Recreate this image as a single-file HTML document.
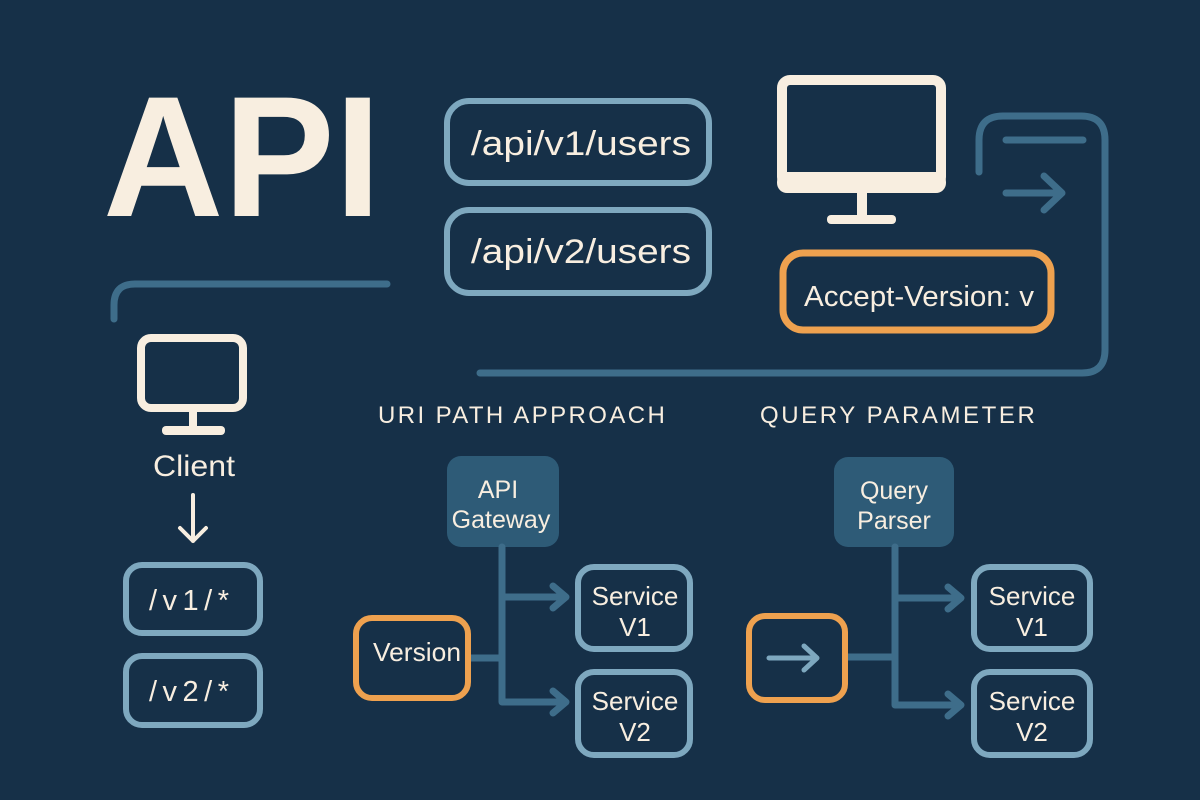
<!DOCTYPE html>
<html><head><meta charset="utf-8"><style>
html,body{margin:0;padding:0;background:#163048;}
svg{display:block}
text{font-family:"Liberation Sans","DejaVu Sans",sans-serif;}
</style></head><body>
<svg width="1200" height="800" viewBox="0 0 1200 800" xmlns="http://www.w3.org/2000/svg">
<rect width="1200" height="800" fill="#163048"/>
<text x="103" y="216" font-size="172" font-weight="bold" fill="#f8eee0" textLength="278" lengthAdjust="spacingAndGlyphs">API</text>
<g fill="none" stroke="#7ea8bf" stroke-width="6">
<rect x="447" y="101" width="262" height="82" rx="22"/>
<rect x="447" y="210" width="262" height="83" rx="22"/>
<rect x="126" y="565" width="134" height="68" rx="16"/>
<rect x="126" y="656" width="134" height="69" rx="16"/>
<rect x="578" y="567" width="112" height="82" rx="16"/>
<rect x="578" y="672" width="112" height="83" rx="16"/>
<rect x="974" y="567" width="116" height="82" rx="16"/>
<rect x="974" y="672" width="116" height="83" rx="16"/>
</g>
<g fill="#f8eee0" font-size="34" text-anchor="middle">
<text x="581" y="155" textLength="220" lengthAdjust="spacingAndGlyphs">/api/v1/users</text>
<text x="581" y="263" textLength="220" lengthAdjust="spacingAndGlyphs">/api/v2/users</text>
</g>
<g fill="none" stroke="#3e6d8a" stroke-width="7" stroke-linecap="round" stroke-linejoin="round">
<path d="M114 319 V305 Q114 284 135 284 H387"/>
<path d="M979 172 V140 Q979 116 1003 116 H1081 Q1105 116 1105 140 V350 Q1105 373 1082 373 H480"/>
<path d="M1006 140 H1083"/>
<path d="M1006 193 H1061 M1044 176 L1062 193 L1044 210"/>
</g>
<rect x="782" y="80" width="159" height="105" rx="8" fill="none" stroke="#f8eee0" stroke-width="10"/>
<rect x="777" y="172" width="169" height="21" rx="10" fill="#f8eee0"/>
<rect x="857" y="190" width="10" height="28" fill="#f8eee0"/>
<rect x="827" y="215" width="69" height="9" rx="4" fill="#f8eee0"/>
<rect x="783" y="253" width="268" height="77" rx="20" fill="none" stroke="#eea14f" stroke-width="7"/>
<text x="919" y="306" font-size="29" fill="#f8eee0" text-anchor="middle" textLength="230" lengthAdjust="spacingAndGlyphs">Accept-Version: v</text>
<rect x="141" y="338" width="102" height="70" rx="10" fill="none" stroke="#f8eee0" stroke-width="8"/>
<rect x="189" y="408" width="8" height="22" fill="#f8eee0"/>
<rect x="162" y="426" width="63" height="9" rx="4" fill="#f8eee0"/>
<text x="194" y="476" font-size="30" fill="#f8eee0" text-anchor="middle" textLength="82" lengthAdjust="spacingAndGlyphs">Client</text>
<path d="M193 495 V541 M180 528 L193 541 L206 528" fill="none" stroke="#f8eee0" stroke-width="4" stroke-linecap="round" stroke-linejoin="round"/>
<g fill="#f8eee0" font-size="29" text-anchor="middle">
<text x="189" y="610" textLength="80" lengthAdjust="spacing">/v1/*</text>
<text x="189" y="701" textLength="80" lengthAdjust="spacing">/v2/*</text>
</g>
<text x="378" y="423" font-size="24" fill="#f8eee0" letter-spacing="1.2" textLength="288">URI PATH APPROACH</text>
<text x="760" y="423" font-size="24" fill="#f8eee0" letter-spacing="1.2" textLength="276">QUERY  PARAMETER</text>
<rect x="447" y="456" width="112" height="91" rx="14" fill="#2e5b77"/>
<rect x="834" y="457" width="120" height="90" rx="14" fill="#2e5b77"/>
<g fill="#f8eee0" font-size="25" text-anchor="middle">
<text x="498" y="498">API</text>
<text x="501" y="528">Gateway</text>
<text x="894" y="499">Query</text>
<text x="894" y="529">Parser</text>
</g>
<g fill="none" stroke="#3e6d8a" stroke-width="7" stroke-linecap="round" stroke-linejoin="round">
<path d="M502 547 V702 H565 M502 597 H565"/>
<path d="M553 586 L566 597 L553 608 M553 691 L566 702 L553 713"/>
<path d="M470 658 H502"/>
<path d="M895 547 V705 H960 M895 598 H960"/>
<path d="M948 587 L961 598 L948 609 M948 694 L961 705 L948 716"/>
<path d="M847 657 H895"/>
</g>
<rect x="356" y="618" width="112" height="80" rx="16" fill="none" stroke="#eea14f" stroke-width="6"/>
<text x="417" y="661" font-size="26" fill="#f8eee0" text-anchor="middle" textLength="88" lengthAdjust="spacingAndGlyphs">Version</text>
<rect x="749" y="616" width="96" height="84" rx="16" fill="none" stroke="#eea14f" stroke-width="6"/>
<path d="M769 658 H816 M804 646 L817 658 L804 670" fill="none" stroke="#7ea8bf" stroke-width="5" stroke-linecap="round" stroke-linejoin="round"/>
<g fill="#f8eee0" font-size="26" text-anchor="middle">
<text x="635" y="605">Service</text><text x="635" y="636">V1</text>
<text x="635" y="710">Service</text><text x="635" y="741">V2</text>
<text x="1032" y="605">Service</text><text x="1032" y="636">V1</text>
<text x="1032" y="710">Service</text><text x="1032" y="741">V2</text>
</g>
</svg>
</body></html>
